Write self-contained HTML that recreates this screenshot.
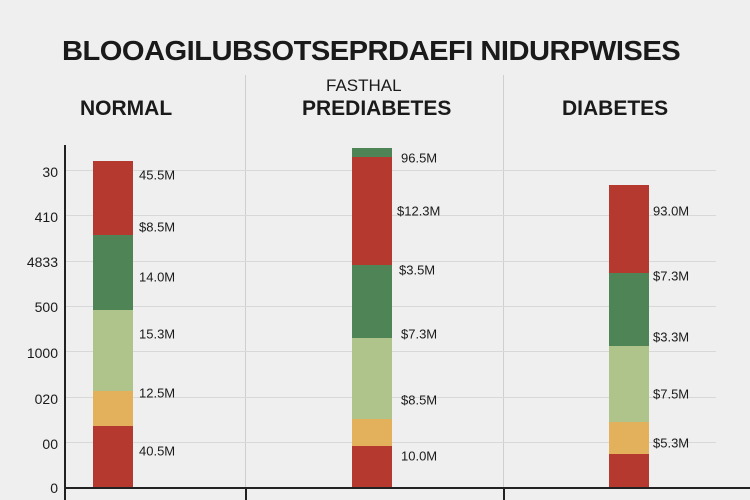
<!DOCTYPE html>
<html><head><style>
body{margin:0;width:750px;height:500px;background:#efefef;position:relative;overflow:hidden;font-family:"Liberation Sans",sans-serif;color:#1a1a1a}
.a{position:absolute}
.t{position:absolute;white-space:nowrap}
.g{position:absolute;left:66px;width:650px;height:1px;background:#d8d8d8}
.yl{position:absolute;right:692px;font-size:14px;transform:translateY(-50%)}
.lb{position:absolute;font-size:13px;transform:translateY(-50%)}
</style></head><body>
<div class="t" style="left:62px;top:35px;font-size:28px;font-weight:bold;letter-spacing:-0.5px;transform:scaleX(1.04);transform-origin:left">BLOOAGILUBSOTSEPRDAEFI NIDURPWISES</div>
<div class="t" style="left:326px;top:76px;font-size:17px">FASTHAL</div>
<div class="t" style="left:80px;top:97px;font-size:21px;font-weight:bold">NORMAL</div>
<div class="t" style="left:302px;top:97px;font-size:21px;font-weight:bold">PREDIABETES</div>
<div class="t" style="left:562px;top:97px;font-size:21px;font-weight:bold">DIABETES</div>
<div class="a" style="left:245px;top:75px;width:1px;height:425px;background:#cfcfcf"></div>
<div class="a" style="left:503px;top:75px;width:1px;height:425px;background:#cfcfcf"></div>
<div class="g" style="top:170px"></div><div class="g" style="top:215px"></div><div class="g" style="top:261px"></div><div class="g" style="top:306px"></div><div class="g" style="top:351px"></div><div class="g" style="top:397px"></div><div class="g" style="top:442px"></div>
<div class="a" style="left:64px;top:145px;width:2px;height:355px;background:#222"></div>
<div class="a" style="left:64px;top:487px;width:686px;height:2px;background:#222"></div>
<div class="a" style="left:245px;top:487px;width:2px;height:13px;background:#222"></div>
<div class="a" style="left:503px;top:487px;width:2px;height:13px;background:#222"></div>
<div class="yl" style="top:172px">30</div><div class="yl" style="top:217px">410</div><div class="yl" style="top:262px">4833</div><div class="yl" style="top:307px">500</div><div class="yl" style="top:353px">1000</div><div class="yl" style="top:399px">020</div><div class="yl" style="top:444px">00</div><div class="yl" style="top:488px">0</div>
<div class="a" style="left:93px;width:40px;top:161px;height:74px;background:#b5392f"></div>
<div class="a" style="left:93px;width:40px;top:235px;height:75px;background:#4f8456"></div>
<div class="a" style="left:93px;width:40px;top:310px;height:81px;background:#aec48b"></div>
<div class="a" style="left:93px;width:40px;top:391px;height:35px;background:#e3b05c"></div>
<div class="a" style="left:93px;width:40px;top:426px;height:61px;background:#b5392f"></div>
<div class="lb" style="left:139px;top:175px">45.5M</div><div class="lb" style="left:139px;top:227px">$8.5M</div><div class="lb" style="left:139px;top:277px">14.0M</div><div class="lb" style="left:139px;top:334px">15.3M</div><div class="lb" style="left:139px;top:393px">12.5M</div><div class="lb" style="left:139px;top:451px">40.5M</div>
<div class="a" style="left:352px;width:40px;top:148px;height:9px;background:#4f8456"></div>
<div class="a" style="left:352px;width:40px;top:157px;height:108px;background:#b5392f"></div>
<div class="a" style="left:352px;width:40px;top:265px;height:73px;background:#4f8456"></div>
<div class="a" style="left:352px;width:40px;top:338px;height:81px;background:#aec48b"></div>
<div class="a" style="left:352px;width:40px;top:419px;height:27px;background:#e3b05c"></div>
<div class="a" style="left:352px;width:40px;top:446px;height:41px;background:#b5392f"></div>
<div class="lb" style="left:401px;top:158px">96.5M</div><div class="lb" style="left:397px;top:211px">$12.3M</div><div class="lb" style="left:399px;top:270px">$3.5M</div><div class="lb" style="left:401px;top:334px">$7.3M</div><div class="lb" style="left:401px;top:400px">$8.5M</div><div class="lb" style="left:401px;top:456px">10.0M</div>
<div class="a" style="left:609px;width:40px;top:185px;height:88px;background:#b5392f"></div>
<div class="a" style="left:609px;width:40px;top:273px;height:73px;background:#4f8456"></div>
<div class="a" style="left:609px;width:40px;top:346px;height:76px;background:#aec48b"></div>
<div class="a" style="left:609px;width:40px;top:422px;height:32px;background:#e3b05c"></div>
<div class="a" style="left:609px;width:40px;top:454px;height:33px;background:#b5392f"></div>
<div class="lb" style="left:653px;top:211px">93.0M</div><div class="lb" style="left:653px;top:276px">$7.3M</div><div class="lb" style="left:653px;top:337px">$3.3M</div><div class="lb" style="left:653px;top:394px">$7.5M</div><div class="lb" style="left:653px;top:443px">$5.3M</div>
</body></html>
